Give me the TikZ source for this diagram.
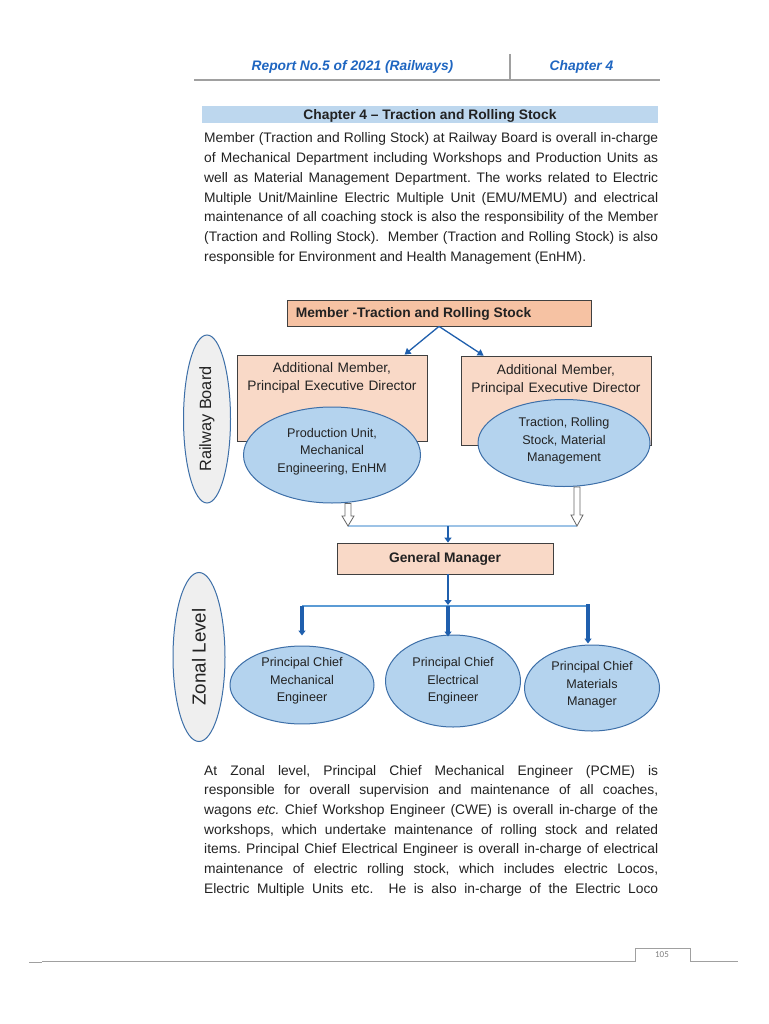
\documentclass[tikz,border=0pt]{standalone}
\usepackage{fontspec}
\setmainfont{Liberation Sans}
\newfontfamily\footfont{Carlito}
\usetikzlibrary{shapes.geometric,arrows.meta,calc}
\definecolor{hdrblue}{HTML}{1F66C1}
\definecolor{barblue}{HTML}{BDD7EE}
\definecolor{peachdark}{HTML}{F6C2A3}
\definecolor{peach}{HTML}{F9D9C7}
\definecolor{ellfill}{HTML}{B4D3EE}
\definecolor{ellline}{HTML}{3D6FA8}
\definecolor{arrblue}{HTML}{1F5FAD}
\definecolor{linelight}{HTML}{9DC3E6}
\definecolor{linemid}{HTML}{5B9BD5}
\definecolor{sidegray}{HTML}{EFEFEF}
\definecolor{rulegray}{HTML}{A0A0A0}
\definecolor{bodytext}{HTML}{222222}
\frenchspacing
\newcommand\justline[1]{{\spaceskip=0pt\xspaceskip=0pt\makebox[454pt][s]{#1}}}
\newcommand\dropby[1]{\rule[-#1]{0pt}{#1}}
\begin{document}
\begin{tikzpicture}[x=1pt,y=-1pt,
  bodypar/.style={anchor=base west, inner sep=0pt, text width=454pt, align=justify,
    text=bodytext, font=\fontsize{13.8}{19.7}\selectfont\frenchspacing},
  hdr/.style={anchor=base, inner sep=0pt, text=hdrblue, font=\fontsize{13.8}{16}\selectfont\bfseries\itshape},
  boxdark/.style={rectangle, draw=black!75, line width=0.8pt, fill=peachdark, inner sep=0pt},
  boxlight/.style={rectangle, draw=black!75, line width=0.8pt, fill=peach, inner sep=0pt},
  boxtext/.style={anchor=base, inner sep=0pt, text width=190pt, align=center, text=bodytext,
    font=\fontsize{13.7}{18}\selectfont},
  blueell/.style={ellipse, draw=ellline, line width=1pt, fill=ellfill, inner sep=0pt,
    align=center, text=bodytext, font=\fontsize{12.6}{17.5}\selectfont},
  sideell/.style={ellipse, draw=ellline, line width=1pt, fill=sidegray, inner sep=0pt, text=bodytext},
  thinarr/.style={draw=arrblue, line width=1.3pt, -{Triangle[length=6pt,width=7pt]}},
  thickarr/.style={draw=arrblue, line width=3.4pt, -{Triangle[length=5pt,width=7pt]}},
  hollow/.style={draw=black!60, line width=0.8pt, fill=white, line join=miter},
  rule/.style={draw=rulegray, line width=1.4pt}
]
\fill[white] (0,0) rectangle (768,1024);
\useasboundingbox (0,0) rectangle (768,1024);

% ---------- page header ----------
\draw[rule] (194,80) -- (660,80);
\draw[rule] (510,54) -- (510,80);
\node[hdr] (rep) at (352.5,71) {Report No.5 of 2021 (Railways)};
\node[hdr] (chp) at (581.5,71) {Chapter 4};

% ---------- title bar ----------
\fill[barblue] (202,106) rectangle (658,123);
\node[anchor=base, inner sep=0pt, text=bodytext, font=\fontsize{13.8}{16}\selectfont\bfseries] (ttl) at (430,119.5)
  {Chapter 4 – Traction and Rolling Stock};

% ---------- paragraph 1 ----------
\node[bodypar] (par1) at (204,143) {%
\justline{Member (Traction and Rolling Stock) at Railway Board is overall in-charge}\\
\justline{of Mechanical Department including Workshops and Production Units as}\\
\justline{well as Material Management Department. The works related to Electric}\\
\justline{Multiple Unit/Mainline Electric Multiple Unit (EMU/MEMU) and electrical}\\
\justline{maintenance of all coaching stock is also the responsibility of the Member}\\
\justline{(Traction and Rolling Stock).\ \ Member (Traction and Rolling Stock) is also}\\
responsible for Environment and Health Management (EnHM).};

% ---------- diagram: Railway Board ----------
\node[sideell, rotate=90, minimum width=168pt, minimum height=47pt,
  font=\fontsize{16.3}{18}\selectfont] (rbd) at (207,419) {Railway Board};

\node[boxdark, minimum width=304pt, minimum height=26pt] (mem) at (439,313) {};
\node[anchor=base west, inner sep=0pt, text=bodytext, font=\fontsize{13.8}{16}\selectfont\bfseries]
  (memt) at ([xshift=9pt,yshift=-18pt]mem.north west) {Member -Traction and Rolling Stock};

\node[boxlight, minimum width=190pt, minimum height=86pt] (lb) at (332,398) {};
\node[boxtext] (lbt) at ([yshift=-18pt]lb.north) {Additional Member,\\Principal Executive Director};
\node[boxlight, minimum width=190pt, minimum height=89pt] (rb) at (556,400.5) {};
\node[boxtext] (rbt) at ([yshift=-19pt]rb.north) {Additional Member,\\Principal Executive Director};

\node[blueell, minimum width=177pt, minimum height=96pt] (le) at (332,455)
  {Production Unit,\\Mechanical\\Engineering, EnHM\dropby{10pt}};
\node[blueell, minimum width=172pt, minimum height=87pt] (re) at (564,443)
  {Traction, Rolling\\Stock, Material\\Management\dropby{7pt}};

\draw[thinarr] (mem.south) -- ([xshift=168pt]lb.north west);
\draw[thinarr] (mem.south) -- ([xshift=23pt]rb.north west);

% hollow arrows and junction
\coordinate (jl) at (348,526);
\coordinate (jr) at (577,526);
\coordinate (j1) at (448,526);
\draw[linelight, line width=2pt] (jl) -- (jr);
\draw[hollow] ($(jl|-le.south)+(-3,0)$) -- ($(jl)+(-3,-10)$) -- ($(jl)+(-6,-10)$) -- (jl)
  -- ($(jl)+(6,-10)$) -- ($(jl)+(3,-10)$) -- ($(jl|-le.south)+(3,0)$) -- cycle;
\draw[hollow] ($(jr|-re.south)+(-3,0)$) -- ($(jr)+(-3,-11)$) -- ($(jr)+(-6,-11)$) -- (jr)
  -- ($(jr)+(6,-11)$) -- ($(jr)+(3,-11)$) -- ($(jr|-re.south)+(3,0)$) -- cycle;

% ---------- General Manager ----------
\node[boxlight, minimum width=216pt, minimum height=31pt, text=bodytext,
  font=\fontsize{13.8}{16}\selectfont\bfseries] (gm) at (445,558.5) {General Manager};
\draw[thickarr, line width=2.6pt] (j1) -- (j1|-gm.north);

\coordinate (k1) at (302,606);
\coordinate (k2) at (448,606);
\coordinate (k3) at (588,606);
\draw[thickarr, line width=2.6pt] (k2|-gm.south) -- ([yshift=1pt]k2);
\draw[linemid, line width=2pt] (k1) -- (k3);

% ---------- Zonal Level ----------
\node[sideell, rotate=90, minimum width=169pt, minimum height=52pt,
  font=\fontsize{18.8}{20}\selectfont] (zl) at (199,657) {Zonal Level};

\node[blueell, minimum width=144pt, minimum height=74pt] (pcme) at (302,685)
  {Principal Chief\\Mechanical\\Engineer\dropby{11pt}};
\node[blueell, minimum width=135pt, minimum height=92pt] (pcee) at (453,681)
  {Principal Chief\\Electrical\\Engineer\dropby{3pt}};
\node[blueell, minimum width=135pt, minimum height=86pt] (pcmm) at (592,688)
  {Principal Chief\\Materials\\Manager\dropby{9pt}};

\draw[thickarr] (k1) -- ([yshift=10pt]k1|-pcme.north);
\draw[thickarr] (k2) -- ([yshift=-2pt]k2|-pcee.north);
\draw[thickarr, line width=4pt] ([yshift=2pt]k3) -- ([yshift=1pt]k3|-pcmm.north);

% ---------- paragraph 2 ----------
\node[bodypar] (par2) at (204,775) {%
\justline{At Zonal level, Principal Chief Mechanical Engineer (PCME) is}\\
\justline{responsible for overall supervision and maintenance of all coaches,}\\
\justline{wagons \textit{etc.} Chief Workshop Engineer (CWE) is overall in-charge of the}\\
\justline{workshops, which undertake maintenance of rolling stock and related}\\
\justline{items. Principal Chief Electrical Engineer is overall in-charge of electrical}\\
\justline{maintenance of electric rolling stock, which includes electric Locos,}\\
\justline{Electric Multiple Units etc.\ \ He is also in-charge of the Electric Loco}};

% ---------- footer ----------
\draw[draw=rulegray, line width=0.9pt] (42,961) -- (635,961) -- (635,948) -- (690,948) -- (690,961) -- (738,961);
\draw[draw=rulegray, line width=0.9pt] (29,962) -- (42,962);
\node[inner sep=0pt, text=gray, font=\footfont\fontsize{9}{10}\selectfont] (pg) at (662,955) {105};
\end{tikzpicture}
\end{document}
